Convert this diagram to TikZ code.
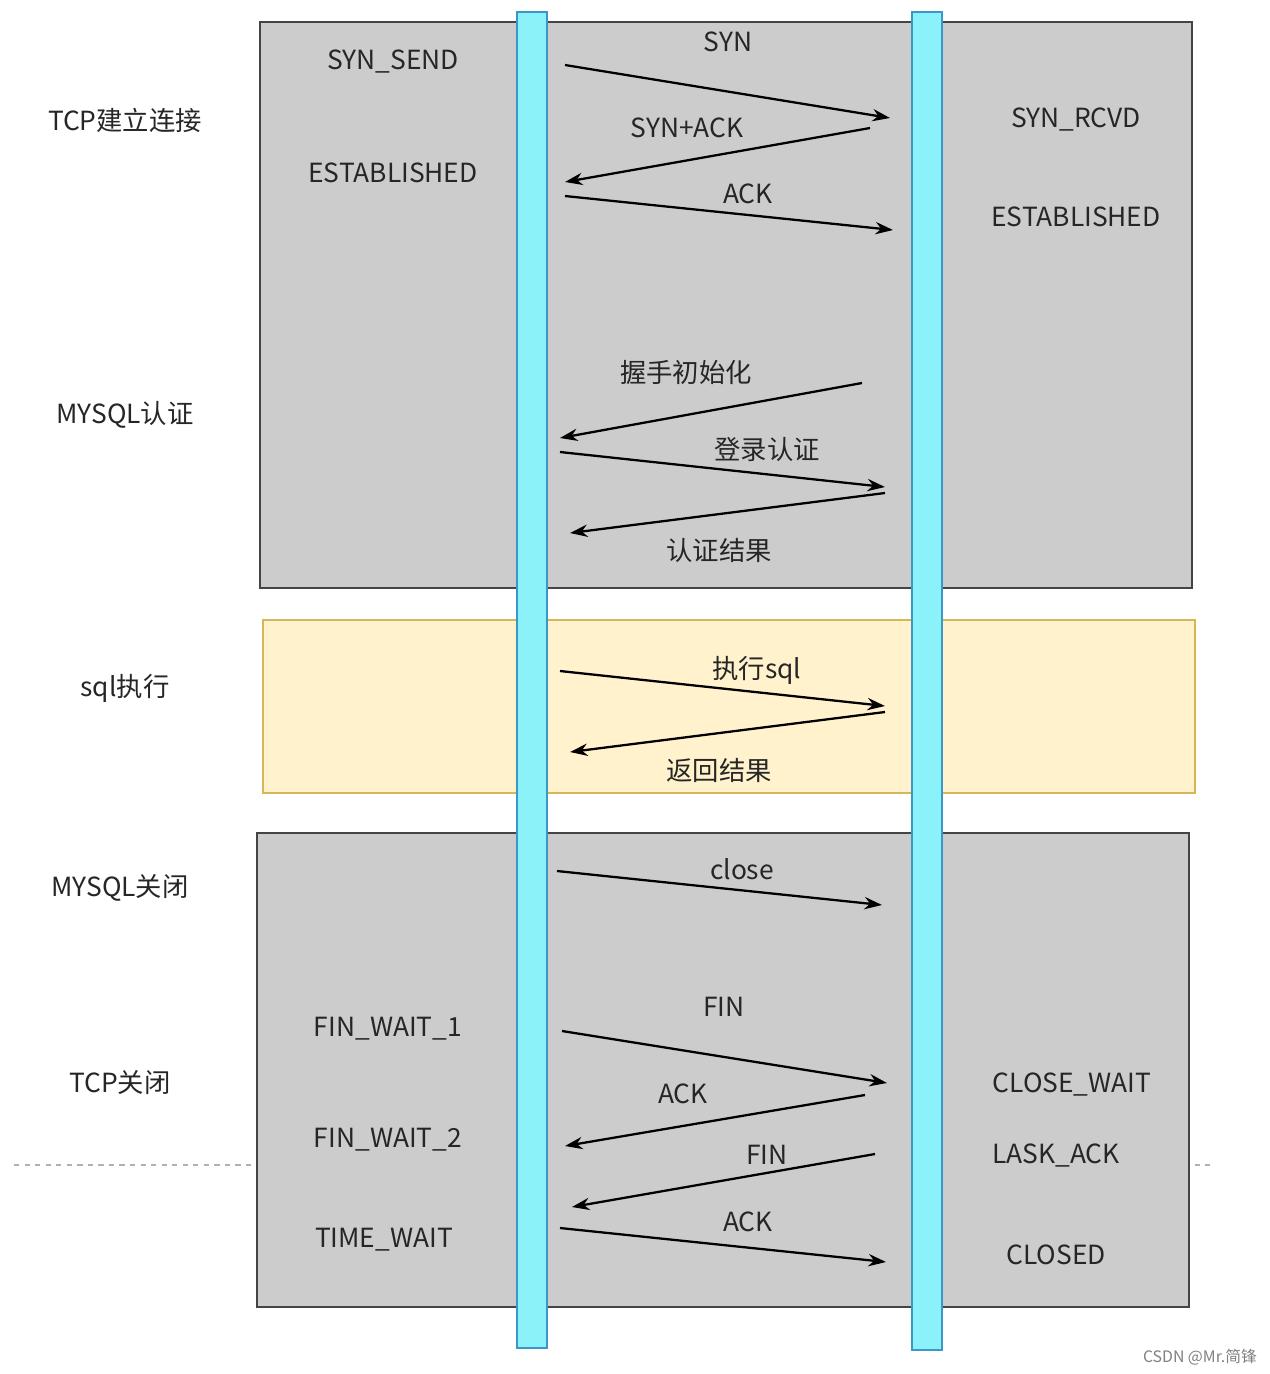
\documentclass[tikz,border=0pt]{standalone}
\usepackage{fontspec}
\setmainfont{Noto Sans CJK SC}
\usetikzlibrary{arrows.meta}
\definecolor{boxgray}{HTML}{CCCCCC}
\definecolor{boxline}{HTML}{444444}
\definecolor{ybox}{HTML}{FFF2CC}
\definecolor{yline}{HTML}{D6B656}
\definecolor{barfill}{HTML}{8CF2FA}
\definecolor{barline}{HTML}{3C96C8}
\begin{document}
\begin{tikzpicture}[x=0.02cm,y=-0.02cm,
  txt/.style={font=\fontsize{15}{18}\selectfont,text=black!85,inner sep=0pt},
  msg/.style={-{Stealth[length=10pt,width=7pt]},line width=1.3pt},
  stage/.style={draw=boxline,line width=1.2pt,fill=boxgray}]
\useasboundingbox (0,0) rectangle (1270,1374);
% dashed separator
\draw[gray!60,dashed,line width=1pt] (14,1165) -- (1210,1165);
% phases
\draw[stage] (260,22) rectangle (1192,588);
\draw[draw=yline,line width=1pt,fill=ybox] (263,620) rectangle (1195,793);
\draw[stage] (257,833) rectangle (1189,1307);
% lifelines
\draw[draw=barline,line width=1.5pt,fill=barfill] (517,12) rectangle (547,1348);
\draw[draw=barline,line width=1.5pt,fill=barfill] (912,12) rectangle (942,1350);
% phase labels
\node[txt] (p1) at (125,120) {TCP建立连接};
\node[txt] (p2) at (125,415) {MYSQL认证};
\node[txt] (p3) at (125,688) {sql执行};
\node[txt] (p4) at (120,888) {MYSQL关闭};
\node[txt] (p5) at (120,1083) {TCP关闭};
% states
\node[txt] (s1) at (393,62) {SYN\_SEND};
\node[txt] (s2) at (393,173) {ESTABLISHED};
\node[txt] (s3) at (1076,120) {SYN\_RCVD};
\node[txt] (s4) at (1076,217) {ESTABLISHED};
\node[txt] (s5) at (388,1029) {FIN\_WAIT\_1};
\node[txt] (s6) at (388,1140) {FIN\_WAIT\_2};
\node[txt] (s7) at (384,1240) {TIME\_WAIT};
\node[txt] (s8) at (1072,1084) {CLOSE\_WAIT};
\node[txt] (s9) at (1056,1155) {LASK\_ACK};
\node[txt] (s10) at (1056,1255) {CLOSED};
% message labels
\node[txt] (m1) at (728,42) {SYN};
\node[txt] (m2) at (687,128) {SYN+ACK};
\node[txt] (m3) at (748,194) {ACK};
\node[txt] (m4) at (686,372) {握手初始化};
\node[txt] (m5) at (767,450) {登录认证};
\node[txt] (m6) at (719,550) {认证结果};
\node[txt] (m7) at (757,670) {执行sql};
\node[txt] (m8) at (719,770) {返回结果};
\node[txt] (m9) at (742,869) {close};
\node[txt] (m10) at (724,1007) {FIN};
\node[txt] (m11) at (683,1094) {ACK};
\node[txt] (m12) at (767,1155) {FIN};
\node[txt] (m13) at (748,1222) {ACK};
% arrow end points
\coordinate (a1s) at (565,65);  \coordinate (a1e) at (890,118);
\coordinate (a2s) at (870,128); \coordinate (a2e) at (565,182);
\coordinate (a3s) at (565,196); \coordinate (a3e) at (893,230);
\coordinate (a4s) at (862,383); \coordinate (a4e) at (560,438);
\coordinate (a5s) at (560,452); \coordinate (a5e) at (885,487);
\coordinate (a6s) at (885,493); \coordinate (a6e) at (570,533);
\coordinate (a7s) at (560,671); \coordinate (a7e) at (885,706);
\coordinate (a8s) at (885,712); \coordinate (a8e) at (570,752);
\coordinate (a9s) at (557,871); \coordinate (a9e) at (882,905);
\coordinate (a10s) at (562,1031); \coordinate (a10e) at (887,1083);
\coordinate (a11s) at (865,1095); \coordinate (a11e) at (565,1146);
\coordinate (a12s) at (875,1154); \coordinate (a12e) at (572,1207);
\coordinate (a13s) at (560,1228); \coordinate (a13e) at (886,1262);
\foreach \i in {1,...,13} \draw[msg] (a\i s) -- (a\i e);
% watermark
\node[font=\fontsize{9}{11}\selectfont,text=gray,inner sep=0pt] (wm) at (1200,1357) {CSDN @Mr.简锋};
\end{tikzpicture}
\end{document}
